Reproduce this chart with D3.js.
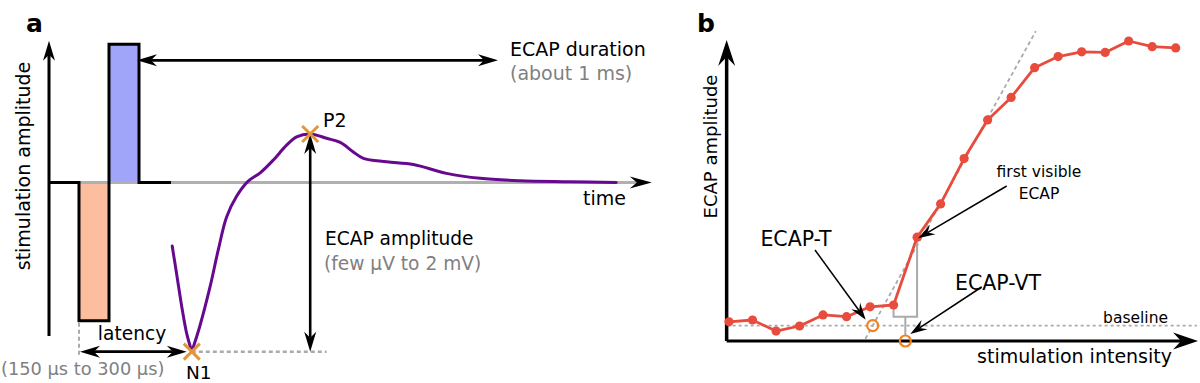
<!DOCTYPE html>
<html>
<head>
<meta charset="utf-8">
<script src="https://cdn.jsdelivr.net/npm/d3@7"></script>
<style>
html,body{margin:0;padding:0;background:#fff;}
svg{display:block;font-family:"DejaVu Sans",sans-serif;}
</style>
</head>
<body>
<svg id="chart" width="1200" height="383"></svg>
<script>
// ---------------- Panel a data (time in µs, amplitude normalised) ----------------
const phaseStart = [0, 75];
const phaseEnd   = [75, 150];
const phaseAmp   = [-1, 1];
const phaseFill  = ["#fdbea0", "#a0a5fa"];

const waveTime = [233, 244, 257, 269, 282, 302, 328, 348, 369, 394, 423, 453, 485, 519, 544, 578, 619, 653, 685, 711, 769, 836, 919, 1003, 1103, 1228, 1343];
const waveAmp  = [-0.46, -0.66, -0.90, -1.09, -1.224, -1.04, -0.75, -0.49, -0.25, -0.10, 0.01, 0.07, 0.16, 0.27, 0.33, 0.351, 0.32, 0.29, 0.223, 0.175, 0.15, 0.13, 0.066, 0.03, 0.013, 0.006, 0.0];
const n1Index = 4, p2Index = 15;

// ---------------- Panel b data ----------------
const intensity = [1, 2, 3, 4, 5, 6, 7, 8, 9, 10, 11, 12, 13, 14, 15, 16, 17, 18, 19, 20];
const ecapAmp   = [6.4, 7.0, 3.3, 5.0, 8.7, 8.1, 11.4, 12.0, 34.6, 45.7, 60.8, 73.7, 81.2, 91.1, 94.8, 96.4, 96.2, 100, 98.1, 97.7];
const baselineLevel = 5.1;
const tangentX = [6.8, 14.05];
const tangentY = [0.7, 103.3];
const firstVisibleIdx = 8;   // index in arrays (intensity 9)
const bracketLevel = 8.1;

const svg = d3.select("#chart");

// ---------- helpers ----------
function arrow(g, x1, y1, x2, y2, o) {
  const len = o.len, hw = o.hw, notch = o.notch;
  const dx = x2 - x1, dy = y2 - y1, L = Math.hypot(dx, dy);
  const ux = dx / L, uy = dy / L, nx = -uy, ny = ux;
  const sx = o.start ? x1 + ux * notch : x1, sy = o.start ? y1 + uy * notch : y1;
  const ex = o.end ? x2 - ux * notch : x2, ey = o.end ? y2 - uy * notch : y2;
  g.append("line").attr("x1", sx).attr("y1", sy).attr("x2", ex).attr("y2", ey)
    .attr("stroke", o.lineColor || "#000").attr("stroke-width", o.width);
  const head = (tx, ty, vx, vy) => {
    const pts = [[tx, ty],
      [tx - vx * len + nx * hw, ty - vy * len + ny * hw],
      [tx - vx * notch, ty - vy * notch],
      [tx - vx * len - nx * hw, ty - vy * len - ny * hw]];
    g.append("path").attr("d", "M" + pts.map(p => p.join(",")).join("L") + "Z").attr("fill", "#000");
  };
  if (o.end) head(x2, y2, ux, uy);
  if (o.start) head(x1, y1, -ux, -uy);
}
function cross(g, x, y, s) {
  g.append("path").attr("d", `M${x - s},${y - s}L${x + s},${y + s}M${x - s},${y + s}L${x + s},${y - s}`)
    .attr("stroke", "#e0963c").attr("stroke-width", 3).attr("fill", "none");
}
const bigHead = {len: 20, hw: 6, notch: 14, width: 2.6};

// =================== Panel a ===================
const xa = d3.scaleLinear().domain([0, 1000]).range([79, 479]);
const ya = d3.scaleLinear().domain([-1, 1]).range([320.7, 44.3]);
const ga = svg.append("g");

ga.append("text").attr("x", 26).attr("y", 32).attr("font-size", 25).attr("font-weight", "bold").text("a");

// pulse fills
phaseStart.forEach((s, i) => {
  ga.append("rect").attr("x", xa(s)).attr("width", xa(phaseEnd[i]) - xa(s))
    .attr("y", Math.min(ya(0), ya(phaseAmp[i]))).attr("height", Math.abs(ya(phaseAmp[i]) - ya(0)))
    .attr("fill", phaseFill[i]);
});
// time axis (gray) with black head
arrow(ga, xa(0), ya(0), xa(1432), ya(0), {end: true, len: 22, hw: 6, notch: 15, width: 3, lineColor: "#b0b0b0"});
// pulse outline
const pulsePts = [[-75, 0], [phaseStart[0], 0]];
phaseStart.forEach((s, i) => { pulsePts.push([s, phaseAmp[i]], [phaseEnd[i], phaseAmp[i]]); });
pulsePts.push([phaseEnd[1], 0], [230, 0]);
ga.append("path").attr("d", d3.line().x(d => xa(d[0])).y(d => ya(d[1]))(pulsePts))
  .attr("fill", "none").attr("stroke", "#000").attr("stroke-width", 3).attr("stroke-linejoin", "miter");
// y axis
arrow(ga, xa(-75), ya(-1.111), xa(-75), ya(1.026), Object.assign({end: true}, bigHead, {width: 3}));

ga.append("text").attr("transform", `translate(30,166) rotate(-90)`).attr("text-anchor", "middle")
  .attr("font-size", 19).text("stimulation amplitude");

// wave (two smooth halves meeting at sharp N1)
const wave = waveTime.map((t, i) => [t, waveAmp[i]]);
const wl = d3.line().x(d => xa(d[0])).y(d => ya(d[1])).curve(d3.curveCatmullRom.alpha(0.5));
[wave.slice(0, n1Index + 1), wave.slice(n1Index)].forEach(seg => {
  ga.append("path").attr("d", wl(seg)).attr("fill", "none").attr("stroke", "#66098f")
    .attr("stroke-width", 3).attr("stroke-linecap", "round");
});

const n1 = wave[n1Index], p2 = wave[p2Index];
// dotted guides
ga.append("line").attr("x1", xa(0)).attr("x2", xa(0)).attr("y1", ya(-1) + 2).attr("y2", ya(-1.26))
  .attr("stroke", "#aaa").attr("stroke-width", 2).attr("stroke-dasharray", "4,3");
ga.append("line").attr("x1", xa(n1[0])).attr("x2", xa(619)).attr("y1", ya(n1[1])).attr("y2", ya(n1[1]))
  .attr("stroke", "#aaa").attr("stroke-width", 2.5).attr("stroke-dasharray", "4,3");

// duration arrow
arrow(ga, xa(145), ya(0.884), xa(1047.5), ya(0.884), Object.assign({start: true, end: true}, bigHead));
ga.append("text").attr("x", 510).attr("y", 56).attr("font-size", 19).text("ECAP duration");
ga.append("text").attr("x", 510).attr("y", 80).attr("font-size", 19).attr("fill", "#808080").text("(about 1 ms)");

// amplitude arrow
arrow(ga, xa(p2[0]), ya(p2[1]), xa(p2[0]), ya(n1[1]), Object.assign({start: true, end: true}, bigHead));
ga.append("text").attr("x", 325).attr("y", 245).attr("font-size", 18.6).text("ECAP amplitude");
ga.append("text").attr("x", 324).attr("y", 270).attr("font-size", 18.6).attr("fill", "#808080").text("(few µV to 2 mV)");

// latency arrow
arrow(ga, xa(0) + 1, ya(n1[1]), xa(n1[0]) - 5, ya(n1[1]), Object.assign({start: true, end: true}, bigHead));
ga.append("text").attr("x", 132).attr("y", 340).attr("text-anchor", "middle").attr("font-size", 18.6).text("latency");
ga.append("text").attr("x", 1).attr("y", 375).attr("font-size", 17.8).attr("fill", "#808080").text("(150 µs to 300 µs)");

cross(ga, xa(n1[0]), ya(n1[1]), 8);
cross(ga, xa(p2[0]), ya(p2[1]), 8);
ga.append("text").attr("x", 186).attr("y", 379).attr("font-size", 18.5).text("N1");
ga.append("text").attr("x", 323).attr("y", 127).attr("font-size", 19).text("P2");
ga.append("text").attr("x", 626).attr("y", 205).attr("text-anchor", "end").attr("font-size", 19).text("time");

// =================== Panel b ===================
const xb = d3.scaleLinear().domain([1, 20]).range([729, 1175.7]);
const yb = d3.scaleLinear().domain([0, 100]).range([341, 41]);
const gb = svg.append("g");

gb.append("text").attr("x", 697).attr("y", 32).attr("font-size", 25).attr("font-weight", "bold").text("b");

// baseline
gb.append("line").attr("x1", xb(0.9)).attr("x2", xb(20.9)).attr("y1", yb(baselineLevel)).attr("y2", yb(baselineLevel))
  .attr("stroke", "#aaa").attr("stroke-width", 1.8).attr("stroke-dasharray", "3,3");
gb.append("text").attr("x", 1168).attr("y", 322.7).attr("text-anchor", "end").attr("font-size", 15.5).text("baseline");

// tangent
gb.append("line").attr("x1", xb(tangentX[0])).attr("y1", yb(tangentY[0])).attr("x2", xb(tangentX[1])).attr("y2", yb(tangentY[1]))
  .attr("stroke", "#aaa").attr("stroke-width", 1.8).attr("stroke-dasharray", "4,3");

// bracket (first visible ECAP step)
const iA = firstVisibleIdx - 1, iB = firstVisibleIdx;
const vtX = (intensity[iA] + intensity[iB]) / 2;
gb.append("path").attr("d", d3.line()([
  [xb(intensity[iB]), yb(ecapAmp[iB])], [xb(intensity[iB]), yb(bracketLevel)],
  [xb(intensity[iA]), yb(bracketLevel)], [xb(intensity[iA]), yb(ecapAmp[iA])]]))
  .attr("fill", "none").attr("stroke", "#aaa").attr("stroke-width", 2);
gb.append("line").attr("x1", xb(vtX)).attr("x2", xb(vtX)).attr("y1", yb(bracketLevel)).attr("y2", yb(0) - 6)
  .attr("stroke", "#aaa").attr("stroke-width", 2);

// axes
arrow(gb, xb(0.9), yb(0), xb(20.95), yb(0), {end: true, len: 25, hw: 8.5, notch: 17, width: 3.2});
arrow(gb, xb(0.9), yb(0), xb(0.9), yb(100.3), {end: true, len: 26, hw: 8.5, notch: 17, width: 3.5});
gb.append("text").attr("transform", `translate(717,146.5) rotate(-90)`).attr("text-anchor", "middle")
  .attr("font-size", 18).text("ECAP amplitude");
gb.append("text").attr("x", 1172).attr("y", 363).attr("text-anchor", "end").attr("font-size", 19).text("stimulation intensity");

// series
const pts = intensity.map((x, i) => [x, ecapAmp[i]]);
gb.append("path").attr("d", d3.line().x(d => xb(d[0])).y(d => yb(d[1]))(pts))
  .attr("fill", "none").attr("stroke", "#e74c3c").attr("stroke-width", 2.8).attr("stroke-linejoin", "round");
gb.selectAll("circle.pt").data(pts).enter().append("circle").attr("class", "pt")
  .attr("cx", d => xb(d[0])).attr("cy", d => yb(d[1])).attr("r", 4.6).attr("fill", "#e74c3c");

// threshold circles
const slope = (tangentY[1] - tangentY[0]) / (tangentX[1] - tangentX[0]);
const ecapT = tangentX[0] + (baselineLevel - tangentY[0]) / slope;
[[ecapT, baselineLevel], [vtX, 0]].forEach(d => {
  gb.append("circle").attr("cx", xb(d[0])).attr("cy", yb(d[1])).attr("r", 5.5)
    .attr("fill", "none").attr("stroke", "#f5821f").attr("stroke-width", 2.2);
});

// annotations
const thin = {end: true, len: 17, hw: 5.5, notch: 11, width: 1.5};
const fv = [xb(intensity[iB]), yb(ecapAmp[iB])];
arrow(gb, 1006.7, 186, fv[0] + 1, fv[1] + 1, thin);
gb.append("text").attr("x", 1039).attr("y", 176.7).attr("text-anchor", "middle").attr("font-size", 15.5).text("first visible");
gb.append("text").attr("x", 1039).attr("y", 199.3).attr("text-anchor", "middle").attr("font-size", 15.5).text("ECAP");

arrow(gb, 815, 250, xb(ecapT) - 7, yb(baselineLevel) - 6, thin);
gb.append("text").attr("x", 796).attr("y", 245.7).attr("text-anchor", "middle").attr("font-size", 20.5).text("ECAP-T");

arrow(gb, 981.7, 287, xb(vtX) + 5, yb(0) - 7, thin);
gb.append("text").attr("x", 998).attr("y", 290).attr("text-anchor", "middle").attr("font-size", 20.5).text("ECAP-VT");
</script>
</body>
</html>
